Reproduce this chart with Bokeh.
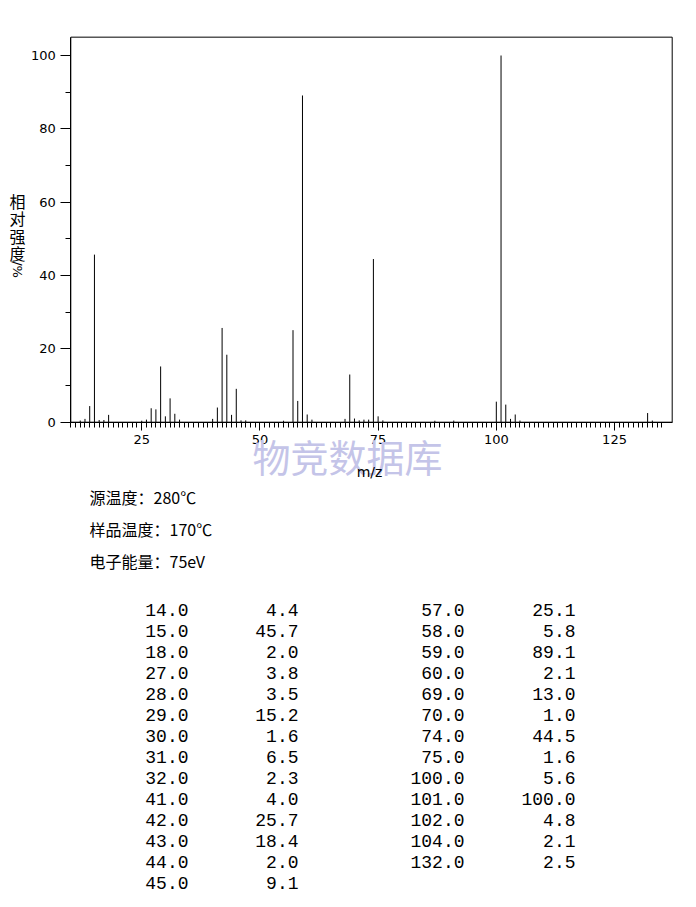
from bokeh.plotting import figure
from bokeh.models import Range1d, FixedTicker, Label, ColumnDataSource, BoxAnnotation
from bokeh.embed import file_html
from bokeh.resources import INLINE

# ---- data ----
mz = [14, 15, 18, 27, 28, 29, 30, 31, 32, 41, 42, 43, 44, 45,
      57, 58, 59, 60, 69, 70, 74, 75, 100, 101, 102, 104, 132]
intensity = [4.4, 45.7, 2.0, 3.8, 3.5, 15.2, 1.6, 6.5, 2.3, 4.0, 25.7, 18.4, 2.0, 9.1,
             25.1, 5.8, 89.1, 2.1, 13.0, 1.0, 44.5, 1.6, 5.6, 100.0, 4.8, 2.1, 2.5]
# small peaks visible on the plot but not listed in the table
minor_mz = [12, 13, 16, 17, 25, 26, 33, 40, 46, 47, 55, 61, 68, 71, 72, 73, 76, 87, 91, 103, 105, 133]
minor_intensity = [0.45, 0.9, 0.6, 0.6, 0.4, 0.7, 0.7, 0.9, 0.5, 0.5, 0.4, 0.7, 0.9, 0.5,
                   0.7, 0.7, 0.5, 0.4, 0.45, 0.9, 0.45, 0.45]

info_lines = ["源温度：280℃", "样品温度：170℃", "电子能量：75eV"]
y_label_chars = ["相", "对", "强", "度"]
y_label_tail = "/%"
x_label = "m/z"
watermark = "物竞数据库"
y_ticks = [0, 20, 40, 60, 80, 100]
y_minor_ticks = [10, 30, 50, 70, 90]
x_ticks = [25, 50, 75, 100, 125]
x_lo, x_hi = 10, 137.2
y_lo, y_hi = 0, 105

W, H = 696, 900
PAGE = 0
# page-pixel geometry of the spectrum frame
FX0, FX1 = 70.3, 671.7
FY0, FY100 = 421.7, 55.0
sxu = (FX1 - FX0) / (x_hi - x_lo)
syu = (FY0 - FY100) / 100.0
xr = Range1d(x_lo - (FX0 - PAGE) / sxu, x_hi + (PAGE + W - FX1) / sxu)
yr = Range1d(-(PAGE + H - FY0) / syu, 100 + (FY100 - PAGE) / syu)


def sy(page_y):
    return H - (page_y - PAGE)


def sx(page_x):
    return page_x - PAGE


p = figure(width=W, height=H, output_backend="svg", toolbar_location=None,
           x_range=xr, y_range=yr,
           min_border_left=0, min_border_right=0, min_border_top=0, min_border_bottom=0)
p.xgrid.visible = False
p.ygrid.visible = False
p.outline_line_color = None
p.background_fill_color = "white"
p.border_fill_color = "white"

# frame box of the spectrum
p.add_layout(BoxAnnotation(left=x_lo, right=x_hi, bottom=y_lo, top=y_hi,
                           fill_color=None, line_color="black", line_width=1, line_alpha=1.0))

src = ColumnDataSource(dict(x=mz, top=intensity, bottom=[0] * len(mz)))
src_minor = ColumnDataSource(dict(x=minor_mz, top=minor_intensity, bottom=[0] * len(minor_mz)))
p.segment(x0="x", y0="bottom", x1="x", y1="top", source=src_minor, line_color="black", line_width=1)
p.segment(x0="x", y0="bottom", x1="x", y1="top", source=src, line_color="black", line_width=1)

tick_font = "DejaVu Sans"
p.xaxis.ticker = FixedTicker(ticks=x_ticks, minor_ticks=list(range(10, 136)))
p.yaxis.ticker = FixedTicker(ticks=y_ticks, minor_ticks=y_minor_ticks)
p.xaxis.fixed_location = y_lo
p.yaxis.fixed_location = x_lo
p.xaxis.bounds = (x_lo, x_hi)
p.yaxis.bounds = (y_lo, y_hi)
for ax in (p.xaxis, p.yaxis):
    ax.axis_line_color = "black"
    ax.major_tick_line_color = "black"
    ax.minor_tick_line_color = "black"
    ax.major_tick_in = 0
    ax.minor_tick_in = 0
    ax.minor_tick_out = 5
    ax.major_label_text_font = tick_font
    ax.major_label_text_font_size = "13px"
    ax.major_label_text_color = "black"
p.xaxis.major_tick_out = 8
p.yaxis.major_tick_out = 10
p.xaxis.major_label_standoff = 5
p.yaxis.major_label_standoff = 5

# y-axis label, stacked characters
ys = [200, 217.5, 235, 252.5]
for ch, yy in zip(y_label_chars, ys):
    p.add_layout(Label(x=sx(17), y=sy(yy), x_units="screen", y_units="screen", text=ch,
                       text_font="Noto Sans CJK SC", text_font_size="16px", text_color="black",
                       text_align="center", text_baseline="middle"))
p.add_layout(Label(x=sx(17), y=sy(269), x_units="screen", y_units="screen", text=y_label_tail,
                   angle=-1.5708, text_font="DejaVu Sans", text_font_size="13px", text_color="black",
                   text_align="center", text_baseline="middle"))

# watermark
p.add_layout(Label(x=sx(347), y=sy(455), x_units="screen", y_units="screen", text=watermark,
                   text_font="Noto Sans CJK SC", text_font_size="38px", text_color="#c4c4e8",
                   text_align="center", text_baseline="middle"))
# x-axis label
p.add_layout(Label(x=sx(369), y=sy(471), x_units="screen", y_units="screen", text=x_label,
                   text_font="DejaVu Sans", text_font_size="14px", text_color="black",
                   text_align="center", text_baseline="middle"))

# info lines
for i, t in enumerate(info_lines):
    p.add_layout(Label(x=sx(89), y=sy(496 + 32 * i), x_units="screen", y_units="screen", text=t,
                       text_font="Noto Sans CJK SC", text_font_size="16px", text_color="black",
                       text_align="left", text_baseline="middle"))

# table
n_left = 14
col_right = [(188, 298), (464, 575)]
for i, (m, v) in enumerate(zip(mz, intensity)):
    col = 0 if i < n_left else 1
    row = i if i < n_left else i - n_left
    yy = 609.5 + 21 * row
    for xpos, txt in zip(col_right[col], (f"{m:.1f}", f"{v:.1f}")):
        p.add_layout(Label(x=sx(xpos), y=sy(yy), x_units="screen", y_units="screen", text=txt,
                           text_font="Liberation Mono", text_font_size="18px", text_color="black",
                           text_align="right", text_baseline="middle"))

open("out.html", "w").write(file_html(p, INLINE))
